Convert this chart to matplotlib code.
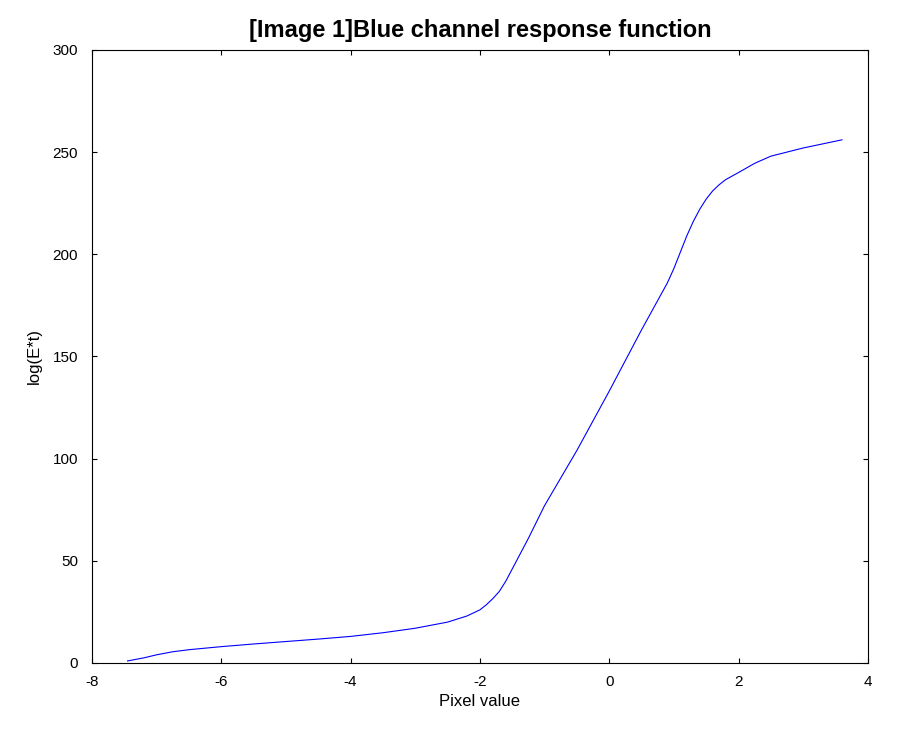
import matplotlib
matplotlib.use("Agg")
import matplotlib.pyplot as plt

plt.rcParams["font.family"] = ["Liberation Sans", "DejaVu Sans"]
plt.rcParams["axes.unicode_minus"] = False

# curve
pixel = [-7.45, -7.2, -7.0, -6.75, -6.5, -6.0, -5.5, -5.0, -4.5, -4.0, -3.5, -3.0,
         -2.5, -2.2, -2.0, -1.9, -1.8, -1.7, -1.6, -1.5, -1.25, -1.0, -0.5, 0.0,
         0.5, 0.9, 1.0, 1.1, 1.2, 1.3, 1.4, 1.5, 1.6, 1.7, 1.8, 2.0, 2.25, 2.5,
         3.0, 3.6]
logE = [1, 2.5, 4, 5.5, 6.5, 8, 9.3, 10.5, 11.7, 13, 14.8, 17,
        20, 23, 26, 28.5, 31.5, 35, 40, 46, 61, 77, 104, 133,
        163, 186, 193, 201, 209, 216, 222, 227, 231, 234, 236.5, 240, 244.5, 248,
        252, 256]

fig = plt.figure(figsize=(9.16, 7.36), dpi=100)
ax = fig.add_axes([0.1004, 0.0992, 0.847, 0.833])
ax.plot(pixel, logE, color="blue", linewidth=0.8)

ax.set_xlim(-8, 4)
ax.set_ylim(0, 300)
ax.set_xticks(range(-8, 5, 2))
ax.set_yticks(range(0, 301, 50))
ax.tick_params(direction="in", top=True, right=True, labelsize=11)
ax.tick_params(axis="x", pad=9)
ax.tick_params(axis="y", pad=10)
ax.set_xlabel("Pixel value", fontsize=12, labelpad=3)
ax.set_ylabel("log(E*t)", fontsize=12, labelpad=8)
ax.set_title("[Image 1]Blue channel response function", fontsize=17,
             fontweight="bold", pad=9)

fig.savefig("out.png")
